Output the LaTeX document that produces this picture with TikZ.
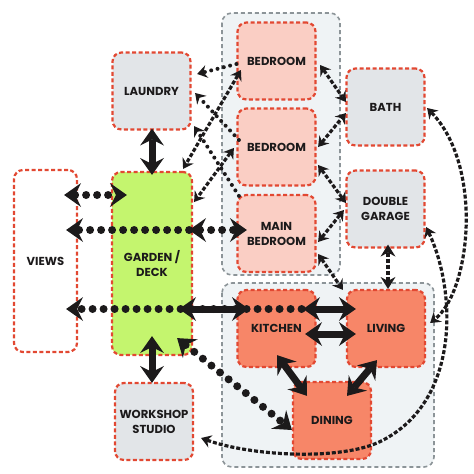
\documentclass[tikz,border=0pt]{standalone}
\usepackage{fontspec}
\setmainfont{Poppins}
\usetikzlibrary{arrows.meta}
\definecolor{roomred}{RGB}{226,72,50}
\definecolor{zoneline}{RGB}{140,148,152}
\definecolor{zonefill}{RGB}{239,243,245}
\definecolor{greyroom}{RGB}{226,229,232}
\definecolor{pinkroom}{RGB}{250,206,196}
\definecolor{salmon}{RGB}{247,134,104}
\definecolor{lime}{RGB}{196,245,110}
\definecolor{ink}{RGB}{28,26,27}

\begin{document}
\begin{tikzpicture}
[x=1pt,y=-1pt,
 room/.style={rectangle,rounded corners=9pt,draw=roomred,line width=2.2pt,
   dash pattern=on 4pt off 2.5pt,minimum width=78pt,minimum height=77pt,
   inner sep=0pt,align=center,text=ink,font=\fontsize{11.6}{15}\selectfont\bfseries},
 zone/.style={rounded corners=10pt,draw=zoneline,fill=zonefill,line width=1.6pt,
   dash pattern=on 4pt off 3pt},
 Chev/.tip={Stealth[length=17pt,width=24pt,inset=6pt,line width=0pt]},
 Mid/.tip={Stealth[length=12pt,width=15pt,inset=4pt,line width=0pt]},
 Small/.tip={Stealth[length=10pt,width=13pt,inset=3.5pt,line width=0pt]},
 fat/.style={draw=ink,line width=7pt},
 beads/.style={draw=ink,line width=8pt,dash pattern=on 0pt off 11pt,line cap=round},
 pearls/.style={draw=ink,line width=4pt,dash pattern=on 0pt off 6.5pt,line cap=round},
 hatch/.style={draw=ink,line width=3.2pt,dash pattern=on 4pt off 2pt}]
\useasboundingbox (0,0) rectangle (474,474);

\draw[zone] (222,13) rectangle (340,275);
\draw[zone] (222,283) rectangle (434,467);

\node[room,fill=greyroom] (lau) at (151.5,91) {LAUNDRY};
\node[room,fill=white,minimum width=63pt,minimum height=182pt] (vie) at (45.5,261) {VIEWS};
\node[room,fill=lime,minimum width=80pt,minimum height=183pt] (gar) at (152,263.5) {GARDEN /\\DECK};
\node[room,fill=greyroom] (wor) at (154,421.5) {WORKSHOP\\STUDIO};
\node[room,fill=pinkroom] (be1) at (276.5,61) {BEDROOM};
\node[room,fill=pinkroom] (be2) at (276.5,147) {BEDROOM};
\node[room,fill=pinkroom] (mbe) at (276.5,233.5) {MAIN\\BEDROOM};
\node[room,fill=greyroom] (bat) at (385.5,107) {BATH};
\node[room,fill=greyroom] (gge) at (385.5,209) {DOUBLE\\GARAGE};
\node[room,fill=salmon] (kit) at (276.5,328.5) {KITCHEN};
\node[room,fill=salmon] (liv) at (386,328.5) {LIVING};
\node[room,fill=salmon] (din) at (332,420.5) {DINING};

% garden links
\draw[fat,Chev-Chev] ([shift={(0.5,-2)}]lau.south) -- ([shift={(0,4)}]gar.north);
\draw[fat,Chev-Chev] ([shift={(0,-20)}]gar.south) -- ([shift={(0,1)}]gar.south |- wor.north);
\draw[beads,Chev-Chev] ([shift={(-14,-66)}]vie.east) -- ([shift={(16,-68.5)}]gar.west);
\draw[beads,-Chev] ([shift={(-4,-33.5)}]gar.east) -- ([shift={(-12,-31)}]vie.east);
\draw[beads,Chev-Chev] ([shift={(-4,-33.5)}]gar.east) -- ([shift={(10.5,-3.5)}]mbe.west);
\draw[beads,-Chev] ([shift={(-15,-19.5)}]kit.east) -- ([shift={(-12,48)}]vie.east);
\draw[fat,Chev-Chev] ([shift={(-14,45.5)}]gar.east) -- ([shift={(12.5,-19.5)}]kit.west);
\draw[beads,Chev-Chev] ([shift={(-16,-18)}]gar.south east) -- ([shift={(0,9.5)}]din.west);

% living area
\draw[fat,Chev-Chev] ([shift={(-13.5,-19.5)}]kit.east) -- ([shift={(10,-19.5)}]liv.west);
\draw[fat,Chev-Chev] ([shift={(-11.5,5.5)}]kit.east) -- ([shift={(10,5.5)}]liv.west);
\draw[fat,Chev-Chev] ([shift={(0.5,-13)}]kit.south) -- ([shift={(-25,15)}]din.north);
\draw[fat,Chev-Chev] ([shift={(-9,-8)}]liv.south) -- ([shift={(15,15)}]din.north);
\draw[hatch,line width=4pt,Mid-Mid] ([shift={(2.5,-4)}]gge.south) -- ([shift={(2.5,0)}]gge.south |- liv.north);

% bedrooms
\draw[hatch,Small-Small] ([shift={(3.5,4)}]be1.east) -- ([shift={(0.5,-5)}]bat.west);
\draw[hatch,Small-Small] ([shift={(1.5,0)}]be2.east) -- ([shift={(0.5,6)}]bat.west);
\draw[hatch,Small-Small] ([shift={(1.5,18)}]be2.east) -- ([shift={(0.5,-6)}]gge.west);
\draw[hatch,Small-Small] ([shift={(1.5,8.5)}]mbe.east) -- ([shift={(-1.5,1)}]gge.west);
\draw[hatch,Small-Small] ([shift={(1.5,20.5)}]mbe.east) -- ([shift={(-3,1)}]liv.north west);
\draw[pearls,-Small] ([shift={(0,3)}]be1.west) -- ([shift={(5.5,-17)}]lau.east);
\draw[pearls,-Small] ([shift={(2.5,-7)}]be2.west) -- ([shift={(3.5,2)}]lau.east);
\draw[pearls,-Small] ([shift={(2.5,2)}]mbe.north west) -- ([shift={(2.5,-4.5)}]lau.south east);
\draw[hatch,Small-Small] ([shift={(4.5,9)}]be1.west) -- ([shift={(-10,-2)}]gar.north east);
\draw[hatch,Small-Small] ([shift={(-2.5,1)}]be2.west) -- ([shift={(1,-61.5)}]gar.east);

% long curves
\draw[hatch,Small-Small] ([shift={(1.5,1)}]bat.east)
  .. controls +(56,58) and +(41,-33) .. ([shift={(4,-5.5)}]liv.east);
\draw[hatch,Small-Small] ([shift={(0.5,18)}]gge.east)
  .. controls +(30,63) and +(80,-40) .. ([shift={(9,-19)}]din.south east)
  .. controls +(-40,20) and +(50,18) .. ([shift={(7,16.5)}]wor.east);
\end{tikzpicture}
\end{document}
